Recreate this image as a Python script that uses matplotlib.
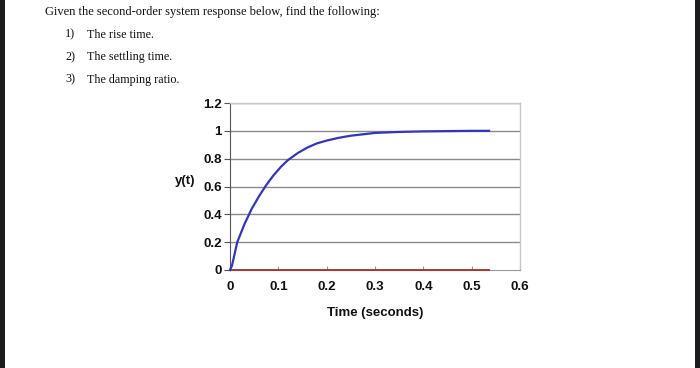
import matplotlib
matplotlib.use("Agg")
import matplotlib.pyplot as plt
from matplotlib.patches import Rectangle

# Data
time_s = [0.0, 0.004, 0.015, 0.03, 0.045, 0.06, 0.075, 0.09, 0.105, 0.12,
          0.14, 0.16, 0.18, 0.20, 0.225, 0.25, 0.275, 0.30, 0.35, 0.40,
          0.45, 0.50, 0.536]
y_vals = [0.0, 0.03, 0.20, 0.33, 0.44, 0.53, 0.61, 0.68, 0.74, 0.79,
          0.84, 0.88, 0.91, 0.93, 0.95, 0.965, 0.975, 0.985, 0.992, 0.996,
          0.998, 1.0, 1.0]
zero_t = [0.0, 0.536]
zero_y = [0.0, 0.0]
x_ticks = [0, 0.1, 0.2, 0.3, 0.4, 0.5, 0.6]
x_tick_labels = ["0", "0.1", "0.2", "0.3", "0.4", "0.5", "0.6"]
y_ticks = [0, 0.2, 0.4, 0.6, 0.8, 1.0, 1.2]
y_tick_labels = ["0", "0.2", "0.4", "0.6", "0.8", "1", "1.2"]

question = "Given the second-order system response below, find the following:"
items = ["The rise time.", "The settling time.", "The damping ratio."]

fig = plt.figure(figsize=(7.0, 3.68), dpi=100)
fig.patch.set_facecolor("white")

# dark borders of the screenshot
fig.add_artist(Rectangle((0, 0), 5 / 700, 1, transform=fig.transFigure,
                         facecolor="#1c1c1e", edgecolor="none"))
fig.add_artist(Rectangle((695 / 700, 0), 5 / 700, 1, transform=fig.transFigure,
                         facecolor="#1c1c1e", edgecolor="none"))

serif = "Liberation Serif"
fig.text(45 / 700, 1 - 12 / 368, question, family=serif, fontsize=9,
         va="center", ha="left", color="#111111")
for i, it in enumerate(items):
    yy = 1 - (34.5 + 22.5 * i) / 368
    fig.text(65 / 700, yy, f"{i + 1})", family=serif, fontsize=8.7,
             va="center", ha="left", color="#111111")
    fig.text(87 / 700, yy, it, family=serif, fontsize=8.7,
             va="center", ha="left", color="#111111")

ax = fig.add_axes([230 / 700, 1 - 270 / 368, 290 / 700, 167 / 368])
ax.set_xlim(0, 0.6)
ax.set_ylim(0, 1.2)

for yv in y_ticks[1:]:
    ax.axhline(yv, color="#8a8a8a", lw=1.0, zorder=1)

ax.plot(zero_t, zero_y, color="#a0302a", lw=1.3, zorder=3, clip_on=False)
ax.plot(time_s, y_vals, color="#3535b5", lw=1.6, zorder=4, clip_on=False)

for side in ["top", "right"]:
    ax.spines[side].set_color("#c8c8c8")
    ax.spines[side].set_linewidth(1.0)
ax.spines["left"].set_color("#555555")
ax.spines["bottom"].set_color("#999999")

ax.set_xticks(x_ticks)
ax.set_xticklabels(x_tick_labels)
ax.set_yticks(y_ticks)
ax.set_yticklabels(y_tick_labels)

sans = "Liberation Sans"
ax.tick_params(axis="y", length=4, width=0.8, color="#555555", pad=2)
ax.tick_params(axis="x", length=3, width=0.8, color="#999999", pad=8,
               direction="in")
for lab in ax.get_xticklabels() + ax.get_yticklabels():
    lab.set_family(sans)
    lab.set_fontweight("bold")
    lab.set_fontsize(9.6)
    lab.set_color("#111111")

ax.set_xlabel("Time (seconds)", family=sans, fontweight="bold", fontsize=9.5,
              labelpad=10, color="#111111")
fig.text(185 / 700, 1 - 181 / 368, "y(t)", family=sans, fontweight="bold",
         fontsize=9.5, ha="center", va="center", color="#111111")

fig.savefig("out.png", dpi=100)
